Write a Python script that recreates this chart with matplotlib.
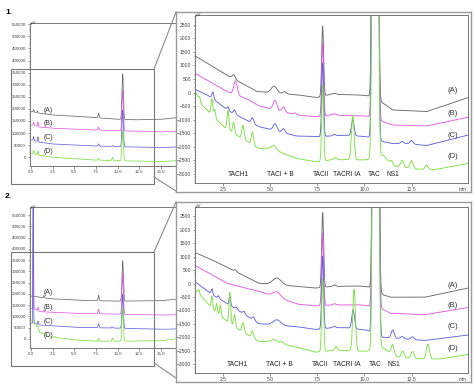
import numpy as np
import matplotlib.pyplot as plt
from matplotlib.lines import Line2D
from matplotlib.patches import Rectangle

plt.rcParams['font.family'] = ['Liberation Sans', 'DejaVu Sans']

W, H = 474, 384
names = ['(A)', '(B)', '(C)', '(D)']
colors = ['#6b6b6b', '#e05ce0', '#6464e0', '#7ee044']
peak_names = ['TACH1', 'TACI + B', 'TACII', 'TACRI IA', 'TAC', 'NS1']

# ---- panel 1, zoomed (uV) : baseline knots + peaks (centre, height, sigma)
p1_base = {
    'A': ([1.0, 1.8, 2.7, 4.3, 6.5, 7.45, 8.2, 9.7, 10.2, 11.0, 11.5, 13.3, 15.5],
          [1355, 1022, 640, 40, -86, -185, -60, -86, -120, -394, -640, -700, -185]),
    'B': ([1.0, 1.8, 2.7, 3.7, 4.4, 6.4, 7.45, 8.2, 10.1, 11.0, 11.5, 13.3, 15.5],
          [714, 400, 37, -210, -490, -825, -890, -825, -860, -1070, -1195, -1230, -910]),
    'C': ([1.0, 1.8, 2.85, 4.4, 6.4, 7.45, 8.2, 9.0, 10.1, 11.0, 11.5, 12.3, 13.3, 15.5],
          [124, -150, -700, -1255, -1600, -1620, -1600, -1570, -1620, -1810, -1880, -1880, -1950, -1565]),
    'D': ([1.0, 1.3, 2.0, 2.6, 3.3, 4.4, 5.0, 6.4, 7.45, 8.2, 9.0, 10.1, 11.0, 11.5, 12.8, 13.8, 15.5],
          [100, -400, -900, -1300, -1600, -2060, -2050, -2430, -2550, -2480, -2470, -2480, -2300, -2700, -2820, -2830, -2610]),
}
p1_peaks = {
    'A': [(3.05, 150, 0.08), (5.2, 250, 0.15), (5.75, 80, 0.08), (7.78, 2580, 0.05),
          (8.4, 40, 0.08), (10.57, 150000, 0.08)],
    'B': [(3.15, 500, 0.09), (5.25, 350, 0.1), (5.7, 180, 0.08), (6.3, 60, 0.08),
          (7.78, 2700, 0.05), (8.4, 50, 0.08), (10.57, 150000, 0.08)],
    'C': [(1.95, 250, 0.05), (2.75, 120, 0.05), (3.1, 150, 0.06), (4.05, 200, 0.07),
          (5.25, 250, 0.1), (5.7, 150, 0.08), (7.78, 2700, 0.05), (8.4, 50, 0.08),
          (9.38, 600, 0.07), (10.57, 150000, 0.08), (12.0, 80, 0.08), (12.5, 130, 0.08)],
    'D': [(1.25, 150, 0.04), (1.9, 600, 0.05), (2.05, 300, 0.04), (2.75, 700, 0.05),
          (3.05, 400, 0.05), (3.55, 500, 0.06), (4.05, 450, 0.06), (5.2, 150, 0.12),
          (7.78, 2800, 0.05), (8.45, 80, 0.08), (9.38, 1650, 0.07), (10.57, 150000, 0.08),
          (11.45, 150, 0.07), (12.0, 250, 0.08), (12.5, 280, 0.08), (13.3, 150, 0.08)],
}

# ---- panel 2, zoomed (uV)
p2_base = {
    'A': ([1.0, 1.8, 2.7, 4.4, 6.5, 7.4, 8.2, 9.7, 10.2, 10.95, 11.4, 13.2, 15.5],
          [1152, 912, 611, 9, -110, -170, -110, -90, -120, -412, -510, -510, -170]),
    'B': ([1.0, 1.8, 2.7, 4.4, 6.5, 7.4, 8.2, 9.7, 10.2, 10.95, 11.4, 13.2, 15.5],
          [671, 370, 9, -292, -773, -833, -800, -790, -833, -954, -1110, -1160, -894]),
    'C': ([1.0, 1.45, 2.0, 2.6, 3.3, 4.4, 6.5, 7.4, 8.2, 9.0, 10.1, 10.95, 11.9, 13.2, 15.5],
          [69, -170, -450, -700, -1000, -1495, -1615, -1712, -1650, -1640, -1736, -2000, -2050, -2120, -1917]),
    'D': ([1.0, 1.5, 2.0, 2.6, 3.3, 4.4, 5.0, 6.2, 7.4, 8.2, 9.0, 10.1, 10.95, 11.8, 12.9, 14.0, 15.5],
          [-232, -600, -1000, -1350, -1700, -2157, -2150, -2338, -2555, -2500, -2500, -2520, -2380, -2750, -2800, -2810, -2640]),
}
p2_peaks = {
    'A': [(3.15, 60, 0.05), (5.35, 250, 0.22), (7.78, 2780, 0.05), (8.4, 60, 0.07),
          (10.6, 150000, 0.08)],
    'B': [(5.35, 200, 0.2), (7.78, 2700, 0.05), (8.4, 50, 0.07), (10.6, 150000, 0.08)],
    'C': [(1.9, 200, 0.04), (2.25, 100, 0.04), (2.85, 350, 0.04), (3.2, 80, 0.05),
          (3.6, 100, 0.06), (4.1, 120, 0.06), (5.35, 200, 0.2), (7.78, 2700, 0.05),
          (8.4, 60, 0.07), (9.4, 700, 0.07), (10.6, 150000, 0.08), (11.5, 300, 0.08),
          (12.0, 80, 0.08), (12.55, 100, 0.08)],
    'D': [(1.2, 150, 0.04), (1.9, 450, 0.04), (2.15, 350, 0.04), (2.35, 400, 0.04),
          (2.85, 1150, 0.045), (3.1, 450, 0.05), (3.55, 350, 0.06), (4.05, 250, 0.06),
          (5.2, 100, 0.12), (5.6, 80, 0.1), (7.78, 2700, 0.05), (8.5, 150, 0.07),
          (9.45, 2300, 0.07), (10.6, 150000, 0.08), (11.5, 350, 0.07), (12.03, 250, 0.08),
          (12.55, 250, 0.08), (13.37, 550, 0.08)],
}

# ---- full-scale overviews (uV)
o1_base = {
    'A': ([0.0, 0.2, 1.0, 2.5, 7.0, 10.0, 12.0, 15.0, 16.5, 17.2],
          [188000, 188000, 182000, 175000, 165000, 157000, 155000, 157000, 162000, 168000]),
    'B': ([0.0, 0.2, 1.0, 2.5, 7.0, 10.0, 15.0, 17.2],
          [133000, 133000, 125000, 120000, 113000, 110000, 105000, 108000]),
    'C': ([0.0, 0.2, 1.0, 2.5, 7.0, 10.0, 15.0, 17.2],
          [71000, 71000, 62000, 55000, 47000, 44000, 40000, 43000]),
    'D': ([0.0, 0.2, 1.0, 2.5, 7.0, 10.0, 15.0, 17.2],
          [16000, 16000, 8000, 0, -11000, -14000, -18000, -13000]),
}
o1_peaks = {
    'A': [(0.3, 10000, 0.04), (0.75, 8000, 0.04), (7.8, 19000, 0.06), (10.58, 188000, 0.08)],
    'B': [(0.3, 12000, 0.04), (0.8, 18000, 0.04), (7.8, 12000, 0.06), (10.58, 167000, 0.08)],
    'C': [(0.3, 15000, 0.04), (0.8, 20000, 0.04), (7.8, 9000, 0.06), (9.4, 3000, 0.07),
          (10.58, 150000, 0.08)],
    'D': [(0.3, 14000, 0.04), (0.8, 16000, 0.04), (1.5, 3000, 0.05), (7.8, 7000, 0.06),
          (9.4, 12000, 0.07), (10.58, 127000, 0.08)],
}
o2_base = {
    'A': ([0.0, 0.25, 1.0, 2.5, 5.0, 7.0, 10.0, 15.0, 16.5, 17.2],
          [190000, 190000, 185000, 178000, 173000, 170000, 168000, 170000, 175000, 178000]),
    'B': ([0.0, 0.3, 1.0, 5.0, 10.0, 15.0, 17.2],
          [136000, 136000, 121000, 114000, 110000, 106000, 108000]),
    'C': ([0.0, 0.3, 1.0, 5.0, 10.0, 15.0, 17.2],
          [70000, 70000, 62000, 52000, 48000, 43000, 45000]),
    'D': ([0.0, 0.3, 1.0, 2.0, 5.0, 7.5, 10.0, 15.0, 16.5, 17.2],
          [84000, 84000, 30000, 10000, -4000, -10000, -10000, -8000, 0, 3000]),
}
o2_peaks = {
    'A': [(1.5, 10000, 0.04), (7.8, 24000, 0.06), (10.58, 178000, 0.08)],
    'B': [(0.25, 600000, 0.03), (0.8, 15000, 0.04), (1.5, 8000, 0.04), (7.8, 20000, 0.06),
          (10.58, 180000, 0.08)],
    'C': [(0.25, 700000, 0.03), (0.8, 15000, 0.04), (7.8, 18000, 0.06), (9.4, 5000, 0.07),
          (10.58, 150000, 0.08)],
    'D': [(0.8, 12000, 0.05), (1.5, 6000, 0.05), (2.8, 5000, 0.06), (7.8, 12000, 0.06),
          (9.4, 14000, 0.07), (10.58, 146000, 0.08), (13.3, 3000, 0.08)],
}

# label positions
o_label_y = [[195000, 140000, 83000, 23000], [205000, 139000, 77000, 15000]]
z_label_y = [[74, -764, -1564, -2365], [-75, -833, -1615, -2410]]
peak_x = [[3.3, 5.54, 7.68, 9.04, 10.54, 11.5], [3.23, 5.5, 7.66, 9.06, 10.58, 11.56]]


def trace(t, knots, peaks):
    y = np.interp(t, knots[0], knots[1])
    for c, h, s in peaks:
        y = y + h * np.exp(-0.5 * ((t - c) / s) ** 2)
    return y


def rect(x0, y0, x1, y1):
    # pixel box -> figure fraction
    return [x0 / W, 1 - y1 / H, (x1 - x0) / W, (y1 - y0) / H]


def fig_line(fig, p0, p1, z=1):
    fig.add_artist(Line2D([p0[0] / W, p1[0] / W], [1 - p0[1] / H, 1 - p1[1] / H],
                          transform=fig.transFigure, color='#8a8a8a', lw=0.8, zorder=z))


def style(ax, fs):
    for s in ax.spines.values():
        s.set_color('#777777')
        s.set_linewidth(0.7)
    ax.tick_params(labelsize=fs, length=1.8, width=0.4, pad=1, colors='#444444')
    ax.tick_params(which='minor', length=1.0, width=0.3, colors='#666666')


fig = plt.figure(figsize=(W / 100, H / 100), dpi=100)
t_full = np.linspace(0, 17.2, 4000)
t_zoom = np.linspace(1.0, 15.5, 4000)

layout = [
    dict(ov=(30, 23, 180, 166), ylim=(-36000, 555000), box=(11, 69, 154, 184),
         c_top=((154, 69), (176, 12)), c_bot=((154, 177), (176, 191)),
         frame=(176, 12, 470.5, 191.5), zax=(195, 15, 468, 182.7), tag_y=12, tag='1.',
         base=p1_base, peaks=p1_peaks, obase=o1_base, opeaks=o1_peaks),
    dict(ov=(30, 206.7, 180, 348), ylim=(-40000, 587000), box=(11, 252, 154, 366),
         c_top=((154, 252), (176, 202)), c_bot=((154, 363), (176, 378)),
         frame=(176, 201.7, 470.5, 381.7), zax=(195, 206.7, 468, 372.7), tag_y=197, tag='2.',
         base=p2_base, peaks=p2_peaks, obase=o2_base, opeaks=o2_peaks),
]

for i, L in enumerate(layout):
    # overview chromatogram
    ax = fig.add_axes(rect(*L['ov']), zorder=0)
    for k, key in enumerate('ABCD'):
        ax.plot(t_full, trace(t_full, L['obase'][key], L['opeaks'][key]),
                color=colors[k], lw=0.55)
        ax.text(1.4, o_label_y[i][k], names[k], fontsize=5, color='#333333', va='center')
    ax.set_xlim(-0.12, 17.2)
    ax.set_ylim(*L['ylim'])
    ax.set_xticks(np.arange(0, 17.5, 2.5), [f'{v:.1f}' for v in np.arange(0, 17.5, 2.5)])
    ax.set_yticks(np.arange(0, 550001, 50000))
    ax.set_yticks(np.arange(0, 560000, 10000), minor=True)
    ax.set_xticks(np.arange(0, 17.2, 0.5), minor=True)
    ax.spines['right'].set_visible(False)
    style(ax, 3.2)
    ax.text(0.005, 0.985, 'µV', transform=ax.transAxes, fontsize=3.2, va='bottom', color='#444444')

    # zoom box and connectors
    bx = L['box']
    fig.add_artist(Rectangle((bx[0] / W, 1 - bx[3] / H), (bx[2] - bx[0]) / W, (bx[3] - bx[1]) / H,
                             transform=fig.transFigure, fill=False, ec='#777777', lw=0.8, zorder=1))
    fig_line(fig, *L['c_top'])
    fig_line(fig, *L['c_bot'])

    # white frame around zoomed view
    fr = fig.add_axes(rect(*L['frame']), zorder=2)
    fr.set_xticks([])
    fr.set_yticks([])
    fr.set_facecolor('white')
    for s in fr.spines.values():
        s.set_color('#9a9a9a')
        s.set_linewidth(1.0)

    # zoomed chromatogram
    zx = fig.add_axes(rect(*L['zax']), zorder=3)
    for k, key in enumerate('ABCD'):
        zx.plot(t_zoom, trace(t_zoom, L['base'][key], L['peaks'][key]), color=colors[k], lw=0.65)
        zx.text(14.7, z_label_y[i][k], names[k], fontsize=5.5, color='#333333',
                ha='center', va='center')
    for name, px in zip(peak_names, peak_x[i]):
        zx.text(px, -3000, name, fontsize=4.8, color='#222222', ha='center', va='center')
    zx.set_xlim(1.0, 15.5)
    zx.set_ylim(-3320, 2860)
    zx.set_xticks([2.5, 5.0, 7.5, 10.0, 12.5], ['2.5', '5.0', '7.5', '10.0', '12.5'])
    zx.set_xticks(np.arange(1.0, 15.5, 0.5), minor=True)
    zx.set_yticks(np.arange(-3000, 2501, 500))
    zx.set_yticks(np.arange(-3300, 2860, 100), minor=True)
    style(zx, 3.6)
    zx.text(0.003, 0.99, 'µV', transform=zx.transAxes, fontsize=3.2, va='bottom', color='#444444')
    zx.text(0.995, -0.025, 'min', transform=zx.transAxes, fontsize=3.6, ha='right', va='top',
            color='#444444')

    fig.text(5 / W, 1 - L['tag_y'] / H, L['tag'], fontsize=6, fontweight='bold', va='center')

fig.savefig('out.png', dpi=100)
